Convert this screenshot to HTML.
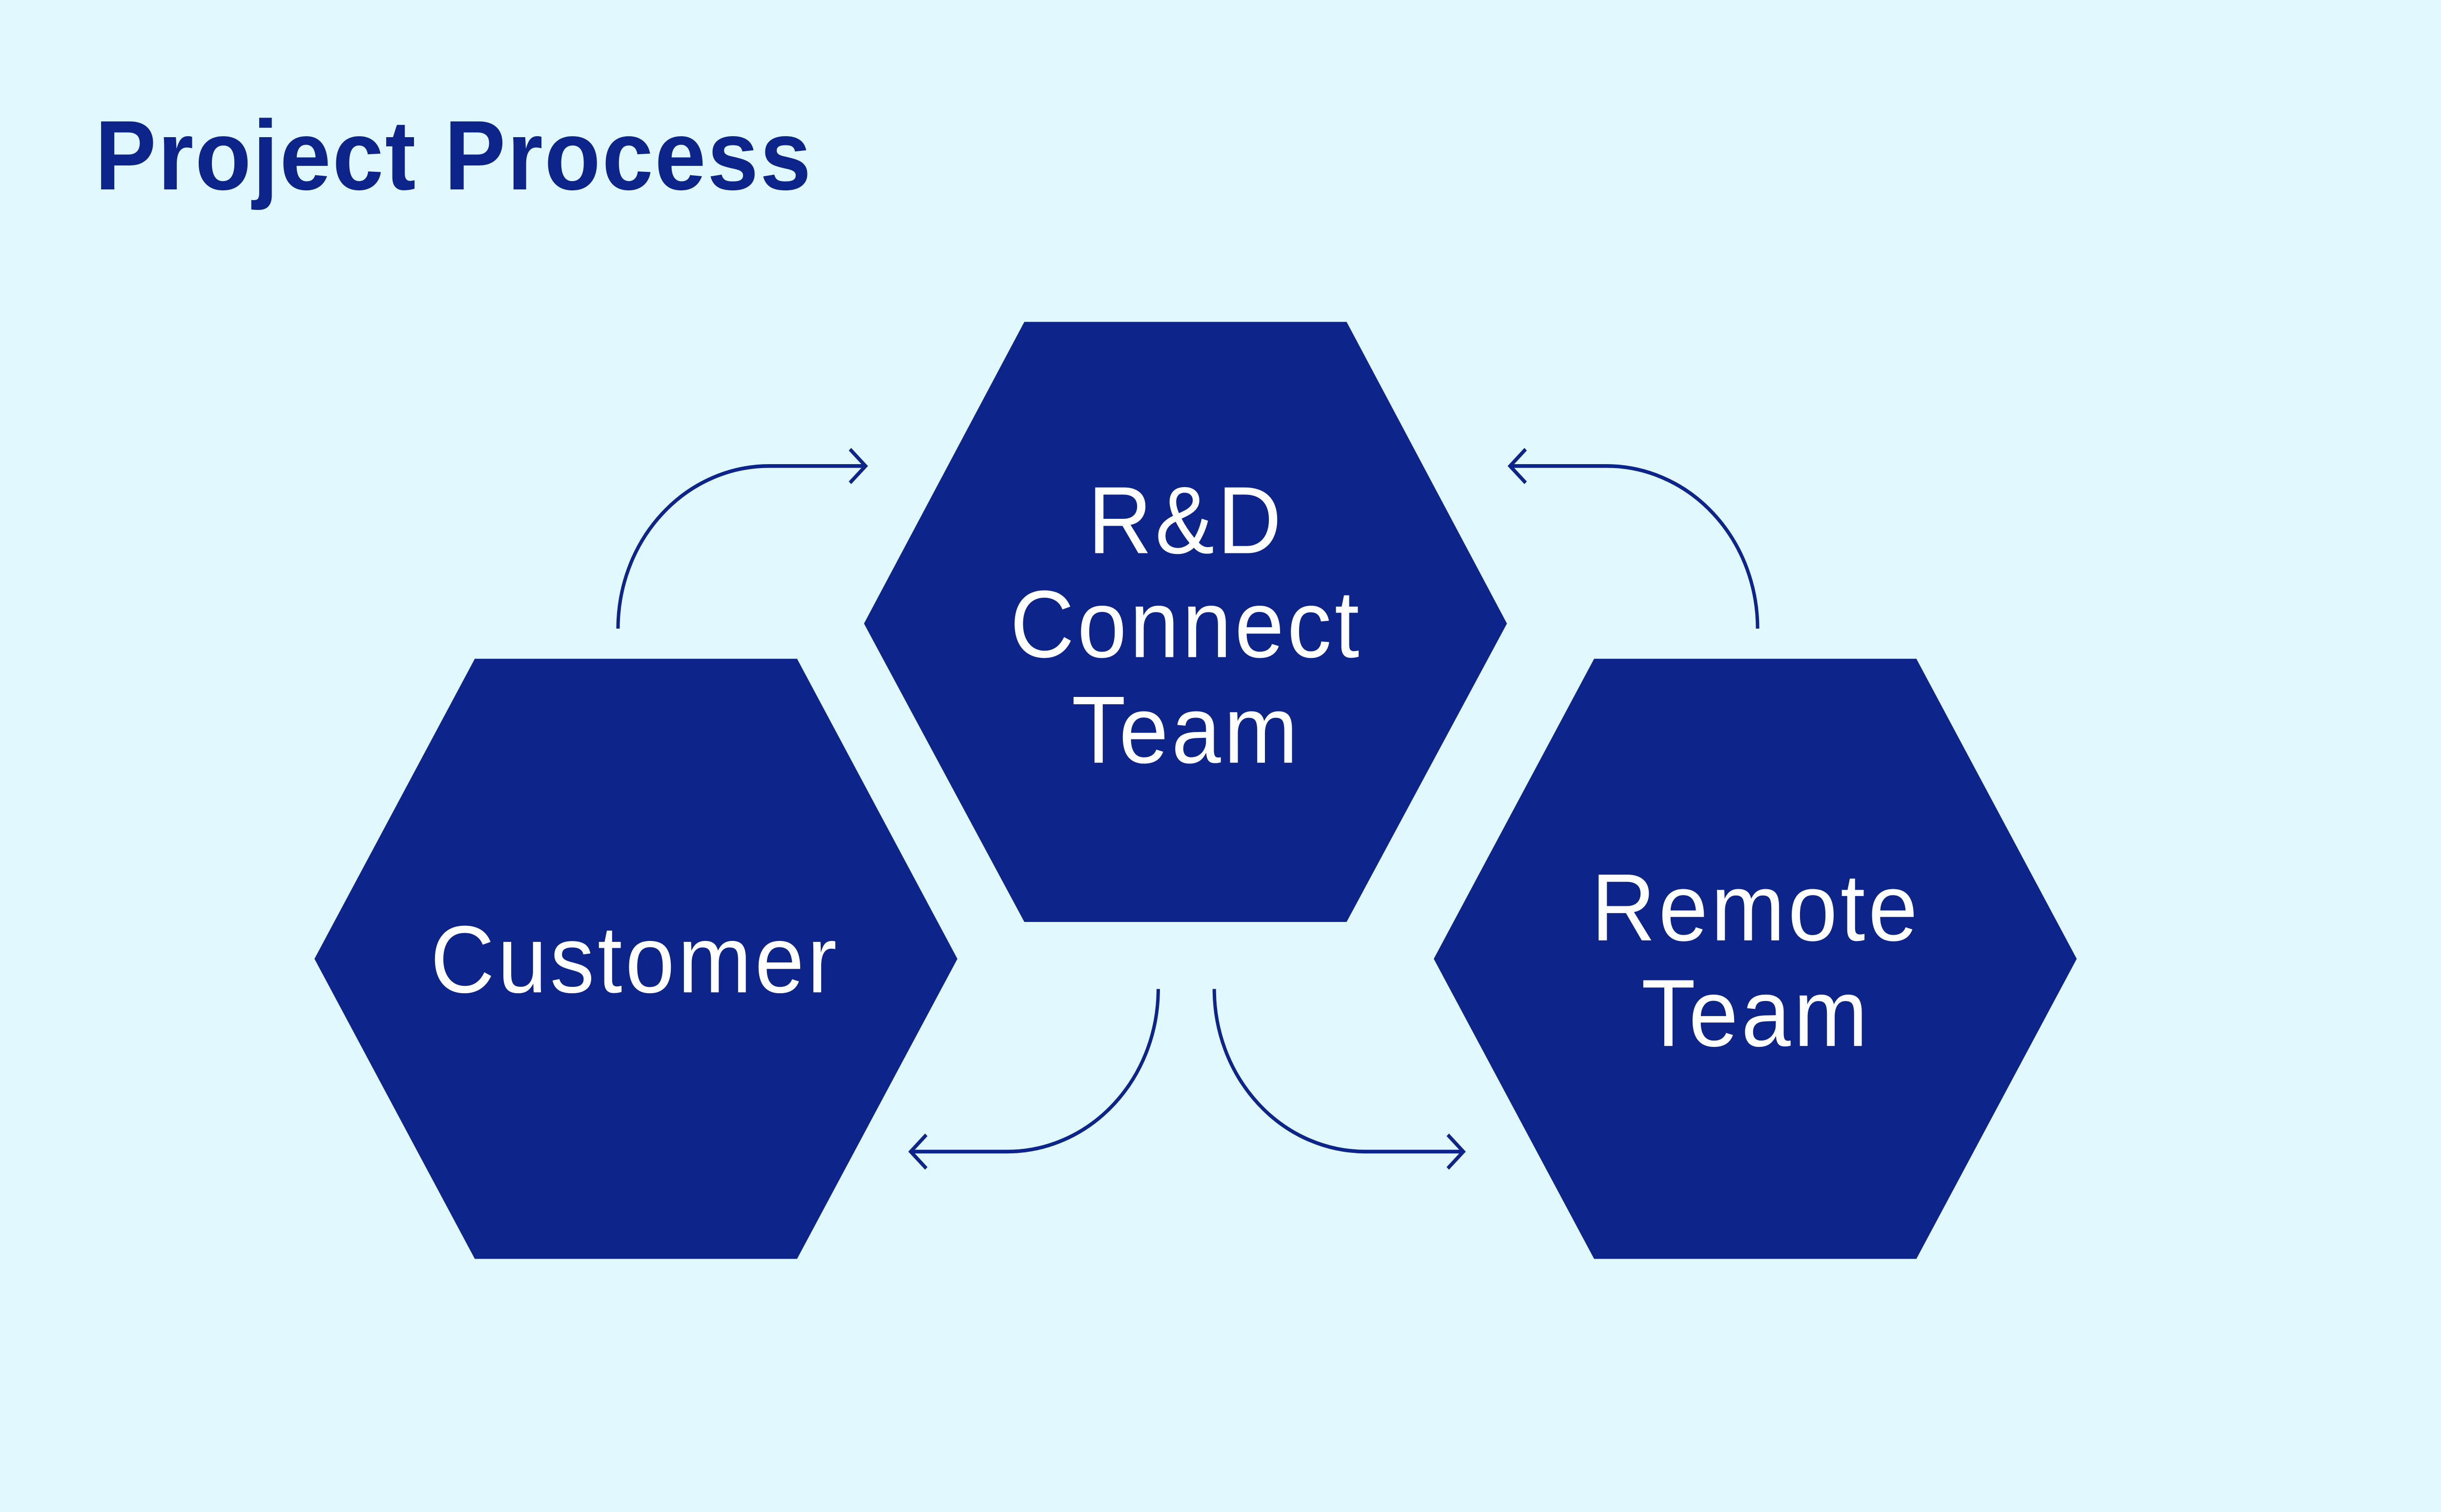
<!DOCTYPE html>
<html>
<head>
<meta charset="utf-8">
<style>
  html,body{margin:0;padding:0;background:#E1F9FE;overflow:hidden;width:100%;height:100%;}
  svg{position:fixed;left:0;top:0;width:100vw;height:100vh;display:block;}
  text{font-family:"Liberation Sans",sans-serif;}
</style>
</head>
<body>
<svg viewBox="0 0 1568 902" preserveAspectRatio="none" xmlns="http://www.w3.org/2000/svg">
  <rect x="0" y="0" width="1568" height="902" fill="#E1F9FE"/>
  <text x="61" y="113" font-size="59" font-weight="bold" fill="#0D258A" letter-spacing="1">Project Process</text>

  <polygon points="658,192 865,192 968,372 865,550 658,550 555,372" fill="#0D258A"/>
  <polygon points="305,393 512,393 615,572 512,751 305,751 202,572" fill="#0D258A"/>
  <polygon points="1024,393 1231,393 1334,572 1231,751 1024,751 921,572" fill="#0D258A"/>

  <g fill="#FFFFFF" font-size="57" text-anchor="middle" letter-spacing="2">
    <text x="762" y="330">R&amp;D</text>
    <text x="762" y="392">Connect</text>
    <text x="762" y="455">Team</text>
    <text x="408" y="592">Customer</text>
    <text x="1128" y="561">Remote</text>
    <text x="1128" y="624">Team</text>
  </g>

  <g fill="none" stroke="#0D258A" stroke-width="2.2">
    <path d="M397,375 A97,97 0 0 1 494,278 L556,278"/>
    <path d="M546,268 L556,278 L546,288"/>
    <path d="M1129,375 A97,97 0 0 0 1032,278 L970,278"/>
    <path d="M980,268 L970,278 L980,288"/>
    <path d="M744,590 A97,97 0 0 1 647,687 L585,687"/>
    <path d="M595,677 L585,687 L595,697"/>
    <path d="M780,590 A97,97 0 0 0 877,687 L940,687"/>
    <path d="M930,677 L940,687 L930,697"/>
  </g>
</svg>
</body>
</html>
